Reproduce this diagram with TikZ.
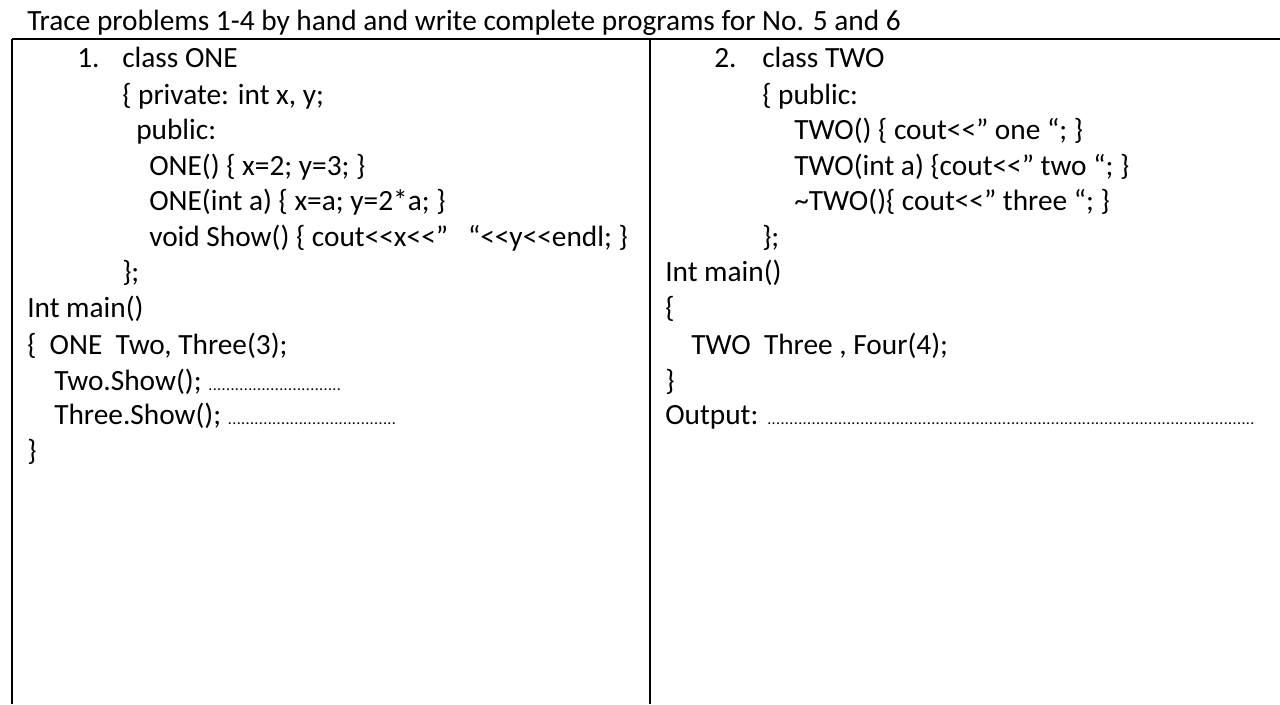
\documentclass[tikz,border=0pt]{standalone}
\usepackage{fontspec}
\setmainfont{Carlito}
\begin{document}
\begin{tikzpicture}[x=0.75pt,y=-0.75pt,
  t/.style={anchor=base west,inner sep=0pt,font=\fontsize{22}{26}\selectfont},
  rule/.style={line width=1pt}]
\useasboundingbox (0,0) rectangle (1280,704);
\newcommand{\dts}[1]{{\fontsize{12}{14}\selectfont\foreach \i in {1,...,#1}{.\kern0.3pt}}}
\draw[rule] (12,39) -- (1280,39);
\draw[rule] (12,39) -- (12,704);
\draw[rule] (650,39) -- (650,704);
\node[t] (title) at (27,30) {Trace problems 1-4 by hand and write complete programs for No. 5 and 6};
% left column
\node[t] (n1) at (77,67) {1.};
\node[t] (l1) at (122,67) {class ONE};
\node[t] (l2) at (122,104) {\{ private: int x, y;};
\node[t] (l3) at (136,139) {public:};
\node[t] (l4) at (149,175) {ONE() \{ x=2; y=3; \}};
\node[t] (l5) at (149,210) {ONE(int a) \{ x=a; y=2*a; \}};
\node[t] (l6) at (149,246) {void Show() \{ cout<{}<x<{}<”\ \ \ “<{}<y<{}<endl; \}};
\node[t] (l7) at (122,281) {\};};
\node[t] (l8) at (27,317) {Int main()};
\node[t] (l9) at (27,354) {\{\ \ ONE\ \ Two, Three(3);};
\node[t] (l10) at (54,390) {Two.Show(); \dts{30}};
\node[t] (l11) at (54,424) {Three.Show(); \dts{38}};
\node[t] (l12) at (27,460) {\}};
% right column
\node[t] (n2) at (714,67) {2.};
\node[t] (r1) at (762,67) {class TWO};
\node[t] (r2) at (762,104) {\{ public:};
\node[t] (r3) at (794,139) {TWO() \{ cout<{}<” one “; \}};
\node[t] (r4) at (794,175) {TWO(int a) \{cout<{}<” two “; \}};
\node[t] (r5) at (794,210) {\char`\~TWO()\{ cout<{}<” three “; \}};
\node[t] (r6) at (762,246) {\};};
\node[t] (r7) at (665,281) {Int main()};
\node[t] (r8) at (665,317) {\{};
\node[t] (r9) at (691,354) {TWO\ \ Three , Four(4);};
\node[t] (r10) at (665,390) {\}};
\node[t] (r11) at (665,424) {Output: \dts{110}};
\end{tikzpicture}
\end{document}
